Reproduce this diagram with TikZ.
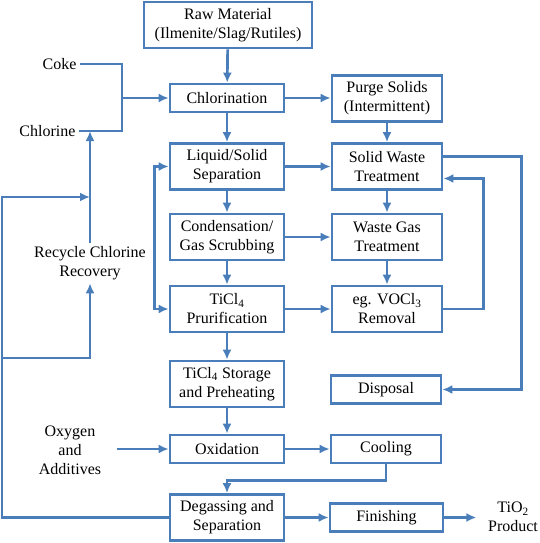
\documentclass[tikz,border=0pt]{standalone}
\usepackage{fontspec}
\setmainfont{Liberation Serif}
\usetikzlibrary{arrows.meta}
\definecolor{flow}{HTML}{4A7EBB}
\begin{document}
\begin{tikzpicture}[x=1pt,y=-1pt,>={Latex[length=10pt,width=9pt]},
	every node/.style={font=\fontsize{16}{19}\selectfont,align=center},
	box/.style={draw=flow,line width=2.7pt,minimum width=114pt,minimum height=46pt,inner sep=0pt},
	low/.style={box,minimum height=28pt},
	flowline/.style={draw=flow,line width=2.7pt}]
	\useasboundingbox (0,0) rectangle (540,543);
	\node[box,minimum width=168pt] (raw) at (228,25) {Raw Material\\(Ilmenite/Slag/Rutiles)};
	\node[low] (chlor) at (227,98) {Chlorination};
	\node[box,minimum width=110pt] (purge) at (387,98.5) {Purge Solids\\(Intermittent)};
	\node[box] (lsep) at (227,166.5) {Liquid/Solid\\Separation};
	\node[box,minimum width=110pt] (swt) at (387,166.5) {Solid Waste\\Treatment};
	\node[box] (cond) at (227,237) {Condensation/\\Gas Scrubbing};
	\node[box,minimum width=110pt] (wgt) at (387,237) {Waste Gas\\Treatment};
	\node[box] (purif) at (227,309) {TiCl\textsubscript{4}\\Prurification};
	\node[box,minimum width=110pt] (voc) at (387,309) {eg. VOCl\textsubscript{3}\\Removal};
	\node[box] (stor) at (227,384) {TiCl\textsubscript{4} Storage\\and Preheating};
	\node[low,minimum width=110pt] (disp) at (386,389.5) {Disposal};
	\node[low] (oxid) at (227,449) {Oxidation};
	\node[low,minimum width=110pt] (cool) at (386,449) {Cooling};
	\node[box] (degas) at (227,517.5) {Degassing and\\Separation};
	\node[low,minimum width=113pt] (fin) at (386.5,517.5) {Finishing};
	\node[anchor=east] (coke) at (80,64) {Coke};
	\node[anchor=east] (chlorine) at (79,131) {Chlorine};
	\node (rec) at (90,263) {Recycle Chlorine\\Recovery};
	\node (oxy) at (70,450) {Oxygen\\and\\Additives};
	\node (tio2) at (513,517) {TiO\textsubscript{2}\\Product};
	\coordinate (j) at (122,98);
	\coordinate (lft) at (2,197);
	\coordinate (br) at (2,358);
	\draw[flowline,->] (raw) -- (chlor);
	\draw[flowline] (coke.east) -| (j);
	\draw[flowline] (chlorine.east) -| (j);
	\draw[flowline,->] (j) -- (chlor);
	\draw[flowline,->] (rec.north) -- (rec.north |- chlorine.east);
	\draw[flowline,->] (degas.west) -| (lft) -- (lft -| rec);
	\draw[flowline,->] (br) -| (rec.south);
	\draw[flowline,->] (chlor.east) -- (chlor.east -| purge.west);
	\draw[flowline,->] (purge) -- (swt);
	\draw[flowline,->] (chlor) -- (lsep);
	\draw[flowline,->] (lsep) -- (swt);
	\draw[flowline,->] (lsep) -- (cond);
	\draw[flowline,->] (swt) -- (wgt);
	\draw[flowline,->] (cond) -- (wgt);
	\draw[flowline,->] (cond) -- (purif);
	\draw[flowline,->] (wgt) -- (voc);
	\draw[flowline,->] (purif) -- (voc);
	\draw[flowline,<->] (lsep.west) -- ++(-14,0) |- (purif.west);
	\draw[flowline,->] (voc.east) -- ++(40,0) |- ([yshift=-12pt]swt.east);
	\draw[flowline,->] ([yshift=10pt]swt.east) -- ++(78,0) |- (disp.east);
	\draw[flowline,->] (purif) -- (stor);
	\draw[flowline,->] (stor) -- (oxid);
	\draw[flowline,->] ([xshift=12pt]oxy.east |- oxid) -- (oxid.west);
	\draw[flowline,->] (oxid) -- (cool);
	\draw[flowline,->] (cool.south) -- ++(0,16) -| (degas.north);
	\draw[flowline,->] (degas) -- (fin);
	\draw[flowline,->] (fin.east) -- ++(32,0);
\end{tikzpicture}
\end{document}
